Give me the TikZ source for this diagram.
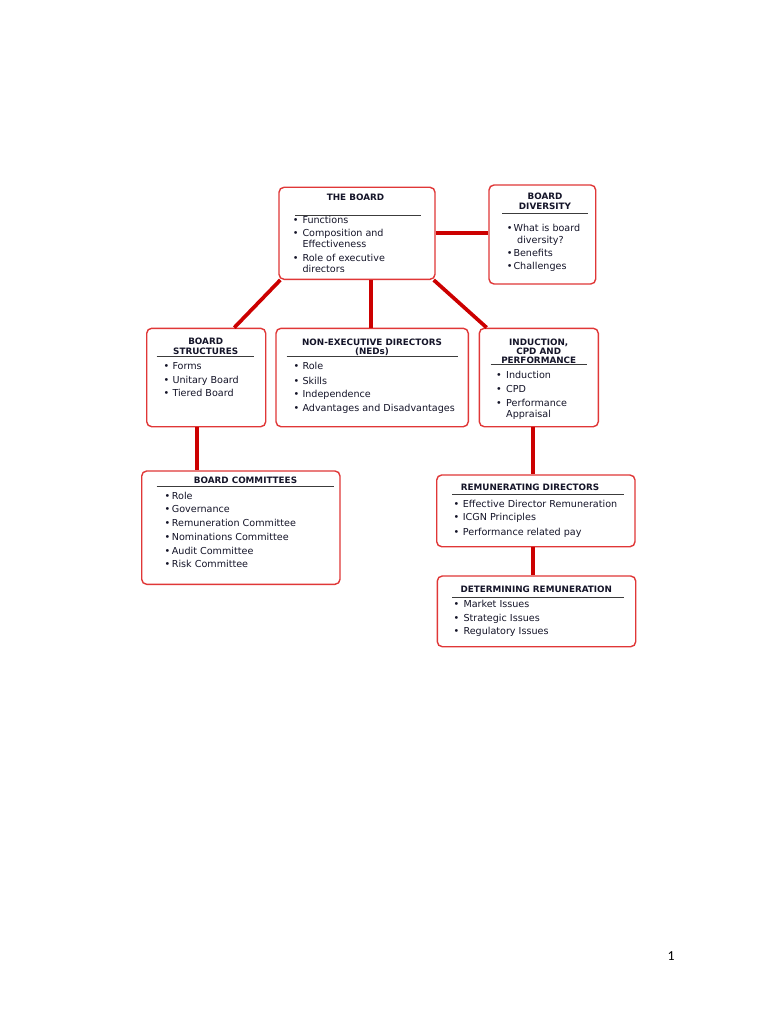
\documentclass[tikz,border=0pt]{standalone}
\usepackage{fontspec}
\setmainfont{DejaVu Sans}
\newfontfamily\pagefont{Carlito}
\usetikzlibrary{calc}
\definecolor{boxred}{RGB}{224,55,55}
\definecolor{linkred}{RGB}{204,0,0}
\definecolor{ink}{RGB}{20,20,40}
\definecolor{rulegray}{RGB}{60,60,60}
\newcommand{\bitem}[5]{\node[bul] (#1b) at (#2,#4) {•}; \node[itm] (#1) at (#3,#4) {#5};}
\begin{document}
\begin{tikzpicture}[x=1pt,y=-1pt,
  box/.style={draw=boxred, line width=1.4pt, rounded corners=5pt, fill=white, inner sep=0},
  link/.style={draw=linkred, line width=3.7pt},
  ttl/.style={font=\fontsize{8.8}{10}\selectfont\bfseries, text=ink, inner sep=0, anchor=base},
  itm/.style={font=\fontsize{9.6}{11}\selectfont, text=ink, inner sep=0, anchor=base west},
  bul/.style={itm},
  rulel/.style={draw=rulegray, line width=0.8pt}]
\useasboundingbox[fill=white] (0,0) rectangle (768,1024);

% boxes
\node[box, minimum width=156pt, minimum height=92pt] (board) at (357,233.3) {};
\node[box, minimum width=106.7pt, minimum height=99pt] (div) at (542.35,234.5) {};
\node[box, minimum width=119pt, minimum height=98.4pt] (struct) at (206.2,377.5) {};
\node[box, minimum width=192.3pt, minimum height=98.4pt] (ned) at (372.15,377.5) {};
\node[box, minimum width=119pt, minimum height=98.4pt] (ind) at (538.8,377.5) {};
\node[box, minimum width=198.3pt, minimum height=113.3pt] (comm) at (240.85,527.65) {};
\node[box, minimum width=198.3pt, minimum height=71.7pt] (rem) at (535.85,510.85) {};
\node[box, minimum width=198.4pt, minimum height=70.7pt] (det) at (536.5,611.35) {};

% connectors
\draw[link] (board.east) -- (board.east -| div.west);
\draw[link] ($(board.south west)+(2,0)$) -- ($(struct.north west)+(88.3,0)$);
\draw[link] ($(board.south)+(13.7,0)$) coordinate (pn) -- (pn |- ned.north);
\draw[link] ($(board.south east)+(-2,0)$) -- ($(ind.north west)+(8,0)$);
\draw[link] ($(struct.south west)+(51.3,0)$) coordinate (ps) -- (ps |- comm.north);
\draw[link] ($(ind.south)+(-5.8,0)$) coordinate (pi) -- (pi |- rem.north);
\draw[link] ($(rem.south)+(-3,0)$) coordinate (pr) -- (pr |- det.north);

% THE BOARD
\node[ttl] (boardt) at (355.5,200.7) {THE BOARD};
\draw[rulel] (295,215) -- (421,215);
\bitem{b1}{292.7}{302.3}{224}{Functions}
\bitem{b2}{292.7}{302.3}{236.5}{Composition and}
\node[itm] (b2c) at (302.3,247.7) {Effectiveness};
\bitem{b3}{292.7}{302.3}{261.7}{Role of executive}
\begin{scope}
\clip (279,187) rectangle (435,271.7);
\node[itm] (b3c) at (302.3,272.3) {directors};
\end{scope}

% BOARD DIVERSITY
\node[ttl] (divt1) at (545,200) {BOARD};
\node[ttl] (divt2) at (545,209.3) {DIVERSITY};
\draw[rulel] (502,213.3) -- (588,213.3);
\bitem{d1}{506.7}{513.3}{232}{What is board}
\node[itm] (d1c) at (517,243.5) {diversity?};
\bitem{d2}{506.7}{513.3}{256}{Benefits}
\bitem{d3}{506.7}{513.3}{269.5}{Challenges}

% BOARD STRUCTURES
\node[ttl] (st1) at (205.7,344.5) {BOARD};
\node[ttl] (st2) at (205.7,354) {STRUCTURES};
\draw[rulel] (156.7,356.7) -- (254.3,356.7);
\bitem{s1}{163.3}{172.3}{369.3}{Forms}
\bitem{s2}{163.3}{172.3}{383}{Unitary Board}
\bitem{s3}{163.3}{172.3}{396.7}{Tiered Board}

% NEDs
\node[ttl] (nt1) at (372,345) {NON-EXECUTIVE DIRECTORS};
\node[ttl] (nt2) at (372,354) {(NEDs)};
\draw[rulel] (286.7,356.7) -- (458.3,356.7);
\bitem{n1}{293.3}{302.3}{369.3}{Role}
\bitem{n2}{293.3}{302.3}{384}{Skills}
\bitem{n3}{293.3}{302.3}{397}{Independence}
\bitem{n4}{293.3}{302.3}{411}{Advantages and Disadvantages}

% INDUCTION
\node[ttl] (it1) at (538.7,345) {INDUCTION,};
\node[ttl] (it2) at (538.7,354) {CPD AND};
\node[ttl] (it3) at (538.7,363.3) {PERFORMANCE};
\draw[rulel] (490.7,364.3) -- (587.3,364.3);
\bitem{c1}{496}{506}{378.3}{Induction}
\bitem{c2}{496}{506}{392.7}{CPD}
\bitem{c3}{496}{506}{406}{Performance}
\node[itm] (c3c) at (506,417) {Appraisal};

% BOARD COMMITTEES
\node[ttl] (ct) at (245.5,483.3) {BOARD COMMITTEES};
\draw[rulel] (156.7,486.7) -- (334.3,486.7);
\bitem{m1}{164.3}{171.7}{499}{Role}
\bitem{m2}{164.3}{171.7}{512.5}{Governance}
\bitem{m3}{164.3}{171.7}{526.7}{Remuneration Committee}
\bitem{m4}{164.3}{171.7}{540.5}{Nominations Committee}
\bitem{m5}{164.3}{171.7}{554.3}{Audit Committee}
\bitem{m6}{164.3}{171.7}{567.7}{Risk Committee}

% REMUNERATING DIRECTORS
\node[ttl] (rt) at (530,490.7) {REMUNERATING DIRECTORS};
\draw[rulel] (452,494.3) -- (624.3,494.3);
\bitem{r1}{453.3}{462.7}{507.3}{Effective Director Remuneration}
\bitem{r2}{453.3}{462.7}{520.7}{ICGN Principles}
\bitem{r3}{453.3}{462.7}{535}{Performance related pay}

% DETERMINING REMUNERATION
\node[ttl] (dt) at (536.3,592.3) {DETERMINING REMUNERATION};
\draw[rulel] (452,597.3) -- (624.3,597.3);
\bitem{e1}{453.3}{463.3}{607.7}{Market Issues}
\bitem{e2}{453.3}{463.3}{621}{Strategic Issues}
\bitem{e3}{453.3}{463.3}{634.5}{Regulatory Issues}

% page number
\node[font=\pagefont\fontsize{13.75}{15}\selectfont, text=black, inner sep=0, anchor=base] (pg) at (671,960.5) {1};
\end{tikzpicture}
\end{document}
